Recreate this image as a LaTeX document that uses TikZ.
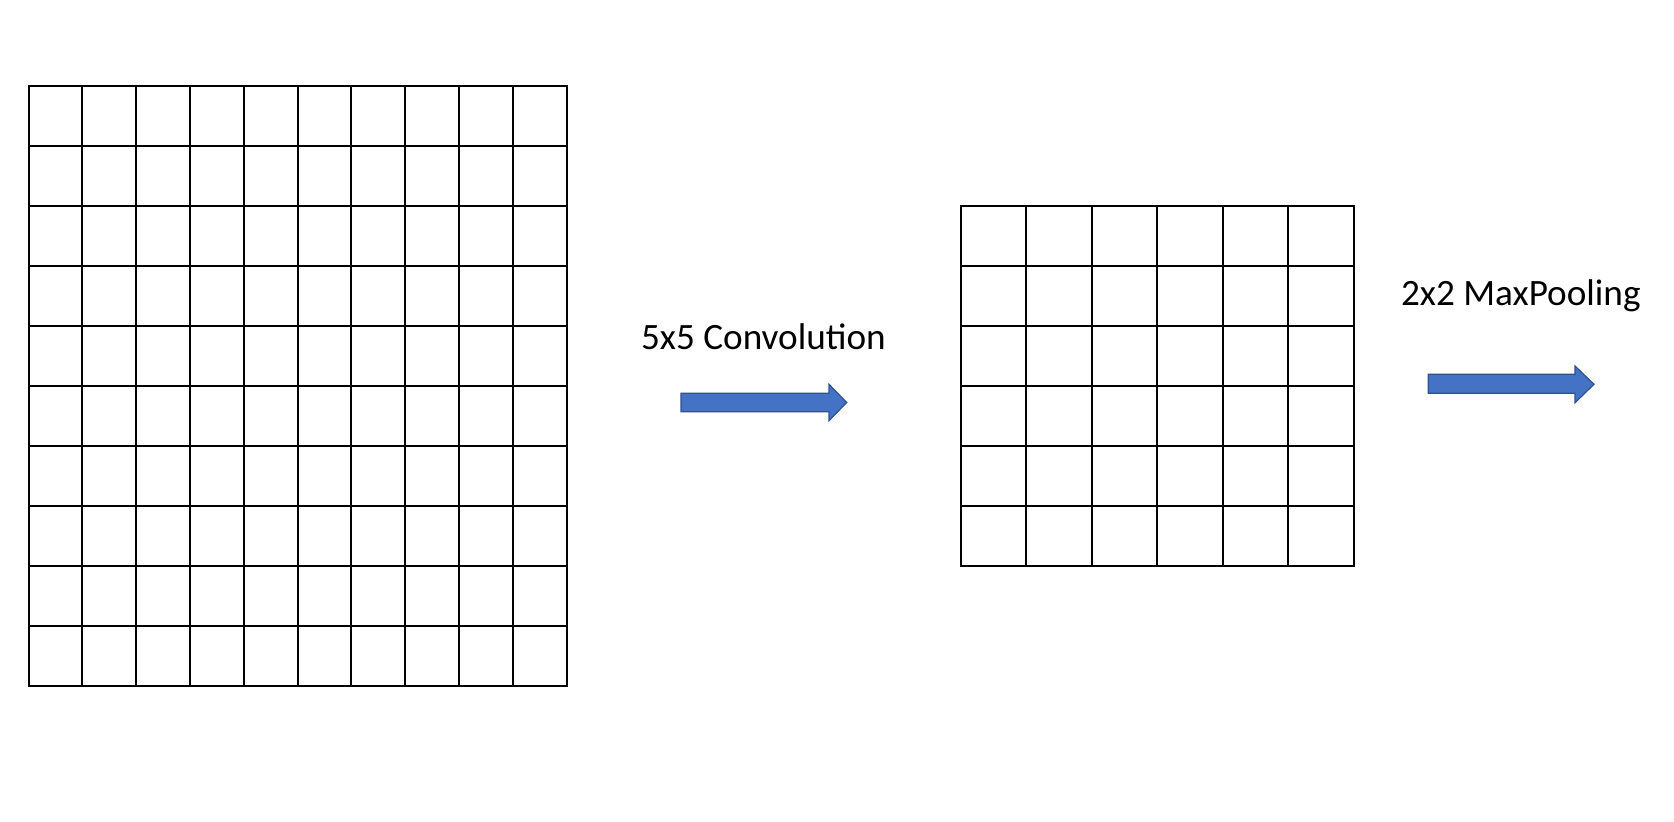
\documentclass[tikz,border=0pt]{standalone}
\usepackage{fontspec}
\setmainfont{Carlito}
\usetikzlibrary{calc}
\begin{document}
\begin{tikzpicture}[x=0.5pt,y=-0.5pt,
  gridline/.style={line width=1pt,draw=black},
  gridbox/.style={rectangle,draw=black,line width=1pt,inner sep=0,outer sep=0,anchor=north west},
  bluearrow/.style={fill=arrowblue,draw=arrowedge,line width=0.6pt,line join=miter},
  label/.style={inner sep=0,anchor=base west,font=\fontsize{18.6}{22}\selectfont}]
\definecolor{arrowblue}{HTML}{4472C4}
\definecolor{arrowedge}{HTML}{2F528F}
\useasboundingbox (0,0) rectangle (1674,822);
% grid 1: 10x10
\node[gridbox,minimum width=269.1pt,minimum height=300.2pt] (g1) at (28.5,85.7) {};
\foreach \i in {1,...,9}{
  \draw[gridline] ($(g1.north west)!\i/10!(g1.north east)$) -- ($(g1.south west)!\i/10!(g1.south east)$);
  \draw[gridline] ($(g1.north west)!\i/10!(g1.south west)$) -- ($(g1.north east)!\i/10!(g1.south east)$);
}
% grid 2: 6x6
\node[gridbox,minimum width=196.5pt,minimum height=180pt] (g2) at (960.7,205.7) {};
\foreach \i in {1,...,5}{
  \draw[gridline] ($(g2.north west)!\i/6!(g2.north east)$) -- ($(g2.south west)!\i/6!(g2.south east)$);
  \draw[gridline] ($(g2.north west)!\i/6!(g2.south west)$) -- ($(g2.north east)!\i/6!(g2.south east)$);
}
% labels
\node[label] (t1) at (640.7,349.3) {5x5 Convolution};
\node[label] (t2) at (1400.7,305.7) {2x2 MaxPooling};
% arrows
\draw[bluearrow] (681,393.3) -- (829,393.3) -- (829,384.3) -- (846.7,402.5) -- (829,420.7) -- (829,411.7) -- (681,411.7) -- cycle;
\draw[bluearrow] (1428.3,374.3) -- (1575,374.3) -- (1575,366) -- (1594,384.3) -- (1575,402.7) -- (1575,393.3) -- (1428.3,393.3) -- cycle;
\end{tikzpicture}
\end{document}
